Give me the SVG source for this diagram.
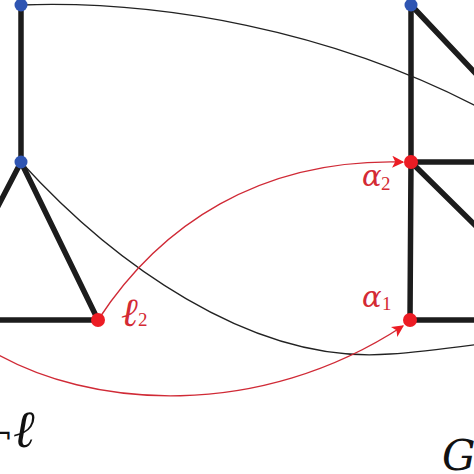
<svg xmlns="http://www.w3.org/2000/svg" width="474" height="474" viewBox="0 0 474 474">
<style>
.e{stroke:#1c1c1c;stroke-width:5.5;stroke-linecap:round;fill:none}
.c{stroke:#222;stroke-width:1.3;fill:none}
.r{stroke:#d02a36;stroke-width:1.4;fill:none}
.b{fill:#2f55b2}
.rd{fill:#ec1c24}
.lbl{font-family:"DejaVu Serif","Liberation Serif",serif;font-style:italic;fill:#d42a34}
.sub{font-family:"Liberation Serif",serif;fill:#d42a34}
.blk{font-family:"DejaVu Serif","Liberation Serif",serif;font-style:italic;fill:#111}
</style>
<defs>
<marker id="ar" viewBox="0 0 10 10" refX="9" refY="5" markerWidth="12" markerHeight="12" markerUnits="userSpaceOnUse" orient="auto">
<path d="M0,0 L10,5 L0,10 L2.5,5 Z" fill="#ec1c24"/>
</marker>
</defs>
<g id="edges">
<line class="e" x1="21" y1="5" x2="21" y2="162"/>
<line class="e" x1="21" y1="162" x2="-5" y2="212"/>
<line class="e" x1="21" y1="162" x2="98" y2="320"/>
<line class="e" x1="-5" y1="320" x2="98" y2="320"/>
<line class="e" x1="411" y1="5" x2="411" y2="162"/>
<line class="e" x1="411" y1="162" x2="410" y2="320"/>
<line class="e" x1="411" y1="5" x2="480" y2="78"/>
<line class="e" x1="411" y1="162" x2="480" y2="162"/>
<line class="e" x1="411" y1="162" x2="480" y2="230"/>
<line class="e" x1="410" y1="320" x2="480" y2="320"/>
</g>
<g id="connectors">
<path class="c" d="M21,5 C160,0 330,30 480,108"/>
<path class="c" d="M21,162 C110,260 250,365 390,354 C420,352 450,348 480,344"/>
<path class="r" d="M98,320 C160,225 260,158 403,162" marker-end="url(#ar)"/>
<path class="r" d="M-10,350 C90,410 260,420 403,326" marker-end="url(#ar)"/>
</g>
<g id="n1"><circle class="b" cx="21" cy="5" r="6.5"/></g>
<g id="n2"><circle class="b" cx="21" cy="162" r="6.5"/></g>
<g id="l2"><circle class="rd" cx="98" cy="320" r="7"/>
<text class="lbl" x="121" y="326" font-size="40">ℓ</text><text class="sub" x="138" y="326" font-size="19">2</text></g>
<g id="n3"><circle class="b" cx="411" cy="5" r="6.5"/></g>
<g id="a2"><circle class="rd" cx="411" cy="162" r="7"/>
<text class="lbl" x="362" y="186" font-size="29">α</text><text class="sub" x="381" y="190" font-size="19">2</text></g>
<g id="a1"><circle class="rd" cx="410" cy="320" r="7"/>
<text class="lbl" x="362" y="307" font-size="29">α</text><text class="sub" x="382" y="310" font-size="19">1</text></g>
<text class="blk" y="447" font-size="52"><tspan x="-11" font-size="28" dy="-3">¬</tspan><tspan x="13" dy="3">ℓ</tspan></text>
<text class="blk" x="442" y="470" font-size="42">G</text>
</svg>
